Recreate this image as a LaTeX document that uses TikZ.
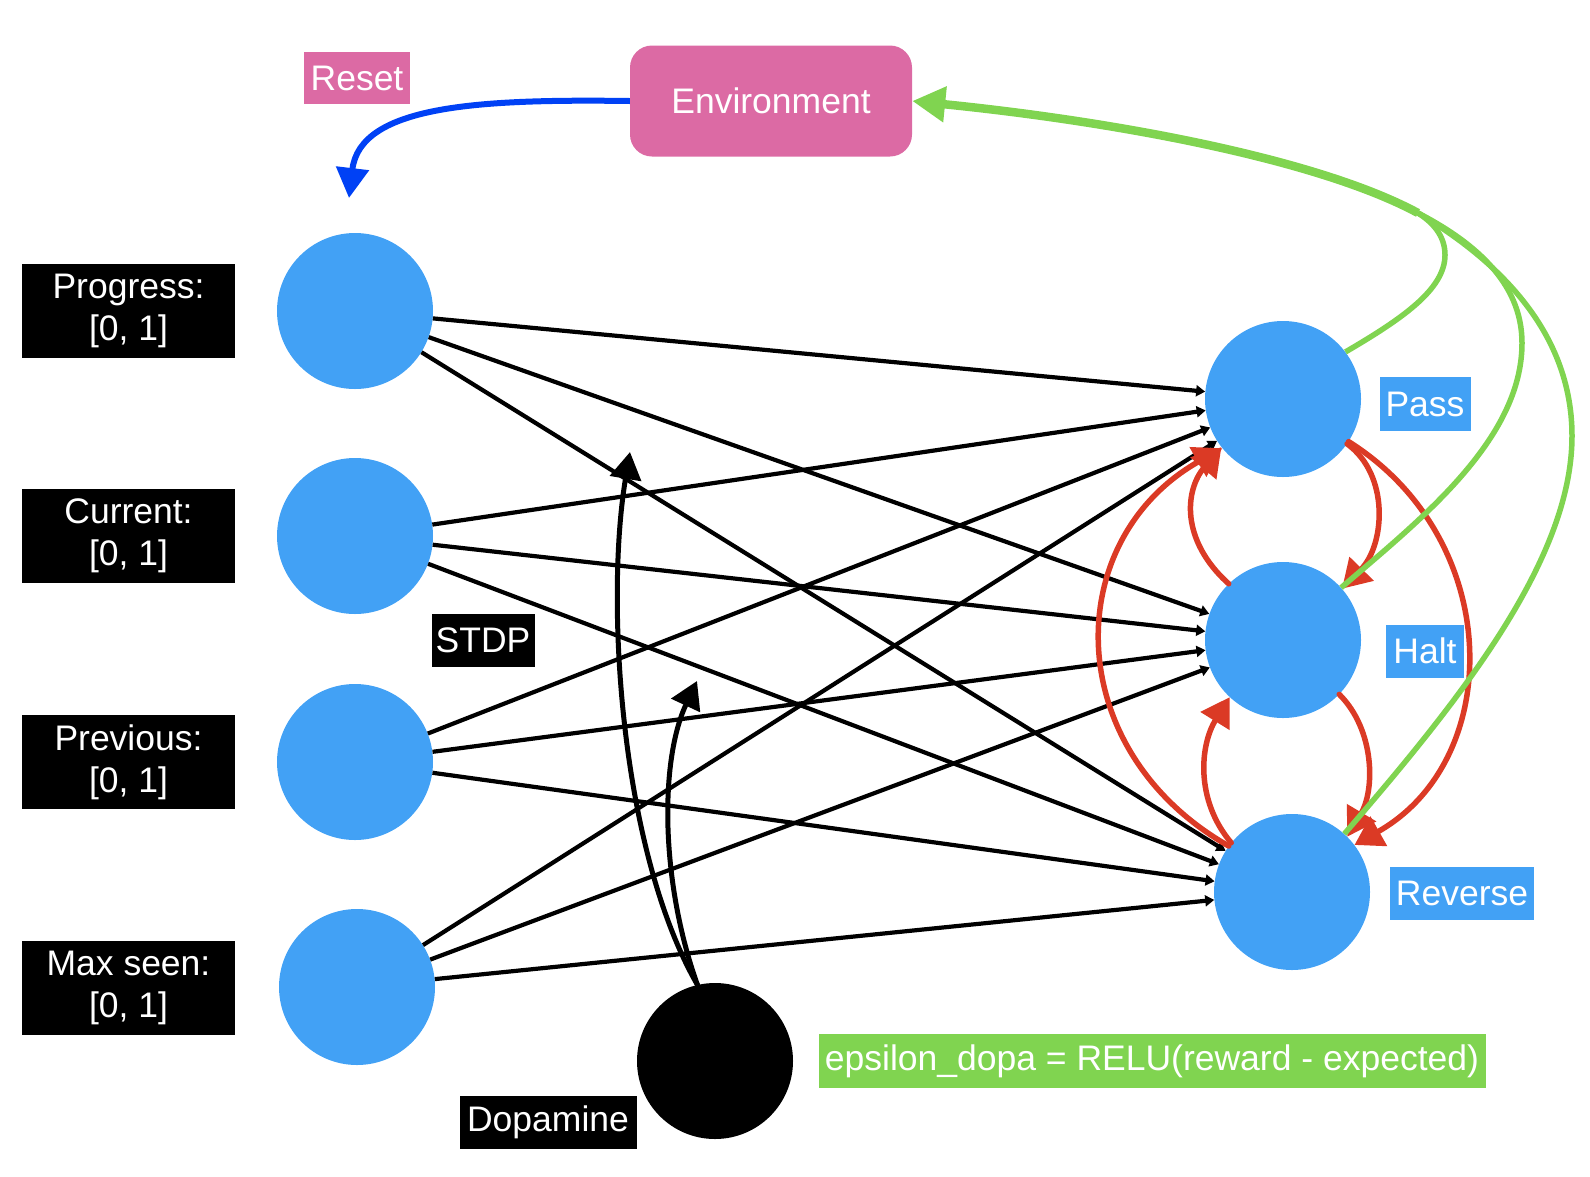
\documentclass[tikz,border=0pt]{standalone}
\usepackage{fontspec}
\setmainfont{Liberation Sans}
\usetikzlibrary{arrows.meta}
\definecolor{nblue}{RGB}{66,161,245}
\definecolor{npink}{RGB}{220,106,164}
\definecolor{ngreen}{RGB}{128,212,80}
\definecolor{nred}{RGB}{219,58,37}
\definecolor{rblue}{RGB}{0,65,245}
\begin{document}
\begin{tikzpicture}[x=1pt,y=-1pt,
  neuron/.style={circle,fill=nblue,minimum size=156pt,inner sep=0pt},
  dopa/.style={circle,fill=black,minimum size=156pt,inner sep=0pt},
  txt/.style={text=white,inner sep=0pt,font=\fontsize{35.5}{42}\selectfont,align=center},
  blab/.style={txt,fill=black},
  ulab/.style={txt,fill=nblue},
  syn/.style={line width=4.2pt,-{Triangle[length=9pt,width=11pt]}},
  redarr/.style={draw=nred,line width=5.5pt,line cap=round,-{Triangle[length=28pt,width=33pt]}},
  dopaarr/.style={draw=black,line width=5pt,line cap=round,-{Triangle[length=27pt,width=31pt]}},
  greenline/.style={draw=ngreen,line width=5.5pt},
  greenthick/.style={draw=ngreen,line width=8.5pt,-{Triangle[length=33pt,width=34pt]}},
  resetarr/.style={draw=rblue,line width=6pt,-{Triangle[length=30pt,width=32pt]}}
]
\useasboundingbox (0,0) rectangle (1590,1176);

% input neurons
\node[neuron] (progress) at (355,311) {};
\node[neuron] (current)  at (355,536) {};
\node[neuron] (previous) at (355,762) {};
\node[neuron] (maxseen)  at (357,987) {};
% output neurons
\node[neuron] (pass)    at (1283,399) {};
\node[neuron] (halt)    at (1283,640) {};
\node[neuron] (reverse) at (1292,892) {};
% dopamine neuron
\node[dopa] (dopamine) at (715,1061) {};

% labels
\node[blab,minimum width=213pt,minimum height=94pt] (lprogress) at (128.5,311) {Progress:\\{}[0, 1]};
\node[blab,minimum width=213pt,minimum height=94pt] (lcurrent)  at (128.5,536) {Current:\\{}[0, 1]};
\node[blab,minimum width=213pt,minimum height=94pt] (lprevious) at (128.5,762) {Previous:\\{}[0, 1]};
\node[blab,minimum width=213pt,minimum height=94pt] (lmaxseen)  at (128.5,988) {Max seen:\\{}[0, 1]};
\node[blab,minimum width=103pt,minimum height=53pt] (lstdp) at (483,640) {STDP};
\node[blab,minimum width=177pt,minimum height=53pt] (ldopa) at (548,1122) {Dopamine};
\node[ulab,minimum width=91pt,minimum height=54pt] (lpass) at (1425,404) {Pass};
\node[ulab,minimum width=78pt,minimum height=53pt] (lhalt) at (1425,651) {Halt};
\node[ulab,minimum width=144pt,minimum height=53pt] (lreverse) at (1462,893) {Reverse};
\node[txt,fill=ngreen,minimum width=667pt,minimum height=54pt] (leps) at (1152,1061) {epsilon\_dopa = RELU(reward - expected)};
\node[txt,fill=npink,minimum width=106pt,minimum height=52pt] (lreset) at (357,78) {Reset};
\node[txt,fill=npink,rounded corners=22pt,minimum width=282pt,minimum height=111pt] (env) at (771,101) {Environment};

% synapses
\foreach \s in {progress,current,previous,maxseen}
  \foreach \t in {pass,halt,reverse}
    \draw[syn] (\s) -- (\t);

% dopamine modulation arrows
\draw[dopaarr] (dopamine.103) .. controls (620,850) and (605,600) .. (630,452);
\draw[dopaarr] (dopamine.103) .. controls (660,880) and (660,760) .. (697,681);

% lateral (red) connections
\draw[redarr] (pass.-35) .. controls (1390,475) and (1385,545) .. (halt.41);
\draw[redarr] (halt.134) .. controls (1180,540) and (1185,490) .. (pass.-142);
\draw[redarr] (halt.-44) .. controls (1375,730) and (1375,790) .. (reverse.45);
\draw[redarr] (reverse.141) .. controls (1195,800) and (1200,745) .. (halt.-133);
\draw[redarr] (pass.-33) .. controls (1505,540) and (1505,760) .. (reverse.37);
\draw[redarr] (reverse.144) .. controls (1060,750) and (1060,540) .. (pass.-141);

% green action paths to environment
\coordinate (merge) at (1418,213);
\draw[greenline] (pass.37) .. controls (1400,320) and (1445,290) .. (1445,255)
                 .. controls (1445,235) and (1432,222) .. (merge);
\draw[greenline] (halt.42) .. controls (1420,520) and (1522,440) .. (1522,343)
                 .. controls (1522,280) and (1470,240) .. (merge);
\draw[greenline] (reverse.48) .. controls (1460,700) and (1572,560) .. (1572,436)
                 .. controls (1572,320) and (1480,250) .. (merge);
\draw[greenthick] (merge) .. controls (1320,160) and (1120,122) .. (env.east);

% reset arrow
\coordinate (resettip) at (349,198);
\draw[resetarr] (env.west) .. controls (480,99) and (360,105) .. (resettip);
\end{tikzpicture}
\end{document}
